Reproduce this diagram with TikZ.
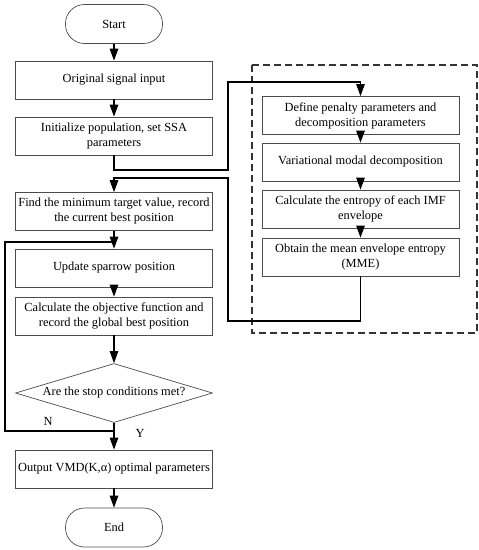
\documentclass[tikz,border=0pt]{standalone}
\usepackage{fontspec}
\setmainfont{Liberation Serif}
\usetikzlibrary{arrows.meta,shapes.geometric}
\begin{document}
\begin{tikzpicture}[x=1pt,y=-1pt,
  every node/.style={font=\fontsize{12.4}{15}\selectfont, text=black},
  box/.style={draw=black!70, line width=0.7pt, minimum width=197pt, minimum height=38pt, align=center, inner sep=2pt},
  term/.style={draw=black!70, line width=0.7pt, minimum width=97pt, minimum height=39pt, rounded corners=19pt},
  dec/.style={draw=black!70, line width=0.7pt, diamond, aspect=3.34, minimum width=197pt, minimum height=59pt, inner sep=0pt},
  conn/.style={line width=1.1pt, draw=black},
  arr/.style={conn, -{Triangle[length=12pt,width=8.5pt]}},
  lbl/.style={inner sep=0pt}
]
\useasboundingbox (0,0) rectangle (479,550);
% dashed frame
\draw[black!80, line width=1.1pt, dash pattern=on 7pt off 4pt] (252,65) rectangle (477,333);
% left column
\node[term] (start) at (114,24) {Start};
\node[box] (orig) at (114,80) {Original signal input};
\node[box] (init) at (114,136) {Initialize population, set SSA\\parameters};
\node[box] (find) at (114,211.5) {Find the minimum target value, record\\the current best position};
\node[box] (upd) at (114,268) {Update sparrow position};
\node[box] (calc) at (114,316) {Calculate the objective function and\\record the global best position};
\node[dec] (stop) at (114,393) {Are the stop conditions met?};
\node[box] (out) at (114,469) {Output VMD(K,α) optimal parameters};
\node[term] (end) at (114,527.5) {End};
% right column
\node[box] (def) at (360.5,115.5) {Define penalty parameters and\\decomposition parameters};
\node[box] (var) at (360.5,162) {Variational modal decomposition};
\node[box] (ent) at (360.5,209) {Calculate the entropy of each IMF\\envelope};
\node[box] (mme) at (360.5,257) {Obtain the mean envelope entropy\\(MME)};
% coordinates
\coordinate (a1) at (114,170);
\coordinate (a2) at (228,170);
\coordinate (a3) at (228,82);
\coordinate (a4) at (360.5,82);
\coordinate (b1) at (360.5,321);
\coordinate (b2) at (228,321);
\coordinate (b3) at (228,178);
\coordinate (b4) at (114,178);
\coordinate (c1) at (114,431);
\coordinate (c2) at (5,431);
\coordinate (c3) at (5,242);
\coordinate (c4) at (114,242);
% connectors
\draw[arr] (start) -- (orig);
\draw[arr] (orig) -- (init);
\draw[arr] (init.south) -- (a1) -- (a2) -- (a3) -- (a4) -- (def.north);
\draw[arr] (def) -- (var);
\draw[arr] (var) -- (ent);
\draw[arr] (ent) -- (mme);
\draw[arr] (mme.south) -- (b1) -- (b2) -- (b3) -- (b4) -- (find.north);
\draw[arr] (find) -- (upd);
\draw[arr] (upd) -- (calc);
\draw[arr] (calc) -- (stop);
\draw[arr] (stop) -- (out);
\draw[arr] (out) -- (end);
\draw[conn] (stop.south) -- (c1) -- (c2) -- (c3) -- (c4);
% labels
\node[lbl] (n) at (48,421) {N};
\node[lbl] (y) at (140,433) {Y};
\end{tikzpicture}
\end{document}
